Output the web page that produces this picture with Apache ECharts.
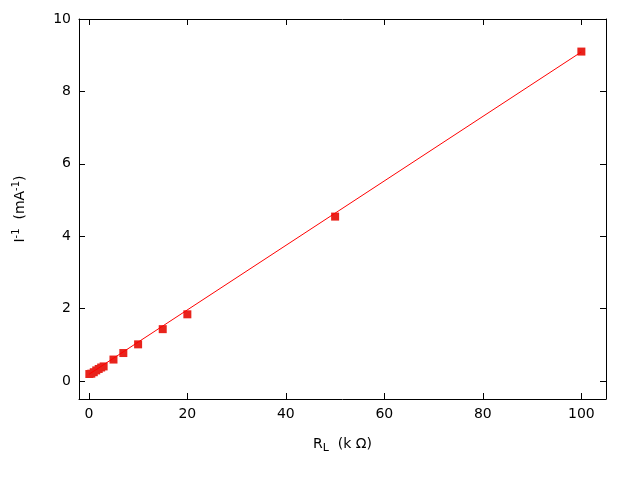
<!DOCTYPE html><html><head><meta charset="utf-8"><script src="https://cdn.jsdelivr.net/npm/echarts@6/dist/echarts.min.js"></script></head><body style="margin:0"><div id="c" style="width:640px;height:480px"></div><script>
const rL=[0.1,0.5,1,1.5,2,2.5,3,5,7,10,15,20,50,100];
const invI=[0.19,0.2,0.24,0.29,0.33,0.37,0.4,0.59,0.77,1.01,1.43,1.84,4.54,9.1];
const fitX=[0,100];
const fitY=[0.18,9.09];
const xTicks=[0,20,40,60,80,100];
const yTicks=[0,2,4,6,8,10];
const ch=echarts.init(document.getElementById('c'));
const line={show:true,onZero:false,lineStyle:{color:'#000'}};
const lab={color:'#000',fontSize:14,fontFamily:'DejaVu Sans'};
const xt={show:true,inside:true,length:6,customValues:xTicks,lineStyle:{color:'#000'}};
const yt={show:true,inside:true,length:6,customValues:yTicks,lineStyle:{color:'#000'}};
ch.setOption({animation:false,grid:{left:79,right:34,top:19,bottom:81},
xAxis:[{type:'value',min:-2,max:105,axisLine:line,splitLine:{show:false},axisTick:xt,axisLabel:Object.assign({margin:8,customValues:xTicks},lab),name:'{a|R}{s|L}{a|  (k Ω)}',nameLocation:'middle',nameGap:36,nameTextStyle:{rich:{a:lab,s:{color:'#000',fontSize:11,fontFamily:'DejaVu Sans',verticalAlign:'bottom',padding:[8,0,0,0]}}}},
{type:'value',position:'top',min:-2,max:105,axisLine:line,splitLine:{show:false},axisTick:xt,axisLabel:{show:false}}],
yAxis:[{type:'value',min:-0.5,max:10,axisLine:line,splitLine:{show:false},axisTick:yt,axisLabel:Object.assign({customValues:yTicks},lab),name:'{a|I}{s|-1}{a|  (mA}{s|-1}{a|)}',nameLocation:'middle',nameGap:50,nameRotate:90,nameTextStyle:{rich:{a:lab,s:{color:'#000',fontSize:10,fontFamily:'DejaVu Sans',verticalAlign:'top',padding:[0,0,8,0]}}}},
{type:'value',position:'right',min:-0.5,max:10,axisLine:line,splitLine:{show:false},axisTick:yt,axisLabel:{show:false}}],
series:[{type:'line',data:fitX.map((x,i)=>[x,fitY[i]]),symbol:'none',lineStyle:{color:'#f00',width:1}},
{type:'scatter',data:rL.map((x,i)=>[x,invI[i]]),symbol:'rect',symbolSize:8,itemStyle:{color:'#e8231c',opacity:1}}]});
</script></body></html>
